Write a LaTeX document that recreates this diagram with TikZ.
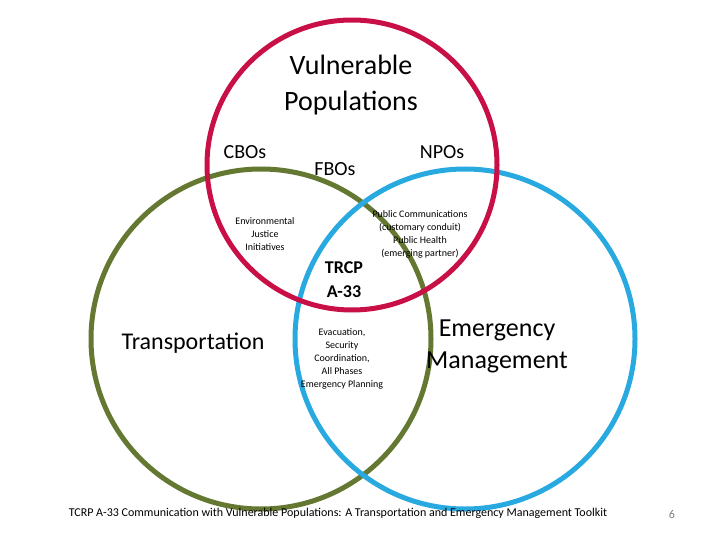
\documentclass[tikz,border=0pt]{standalone}
\usepackage{fontspec}
\setmainfont{Carlito}
\usepackage{tikz}
\usetikzlibrary{positioning}
\definecolor{vred}{RGB}{200,16,70}
\definecolor{vgreen}{RGB}{100,120,50}
\definecolor{vblue}{RGB}{40,170,225}

\begin{document}
\begin{tikzpicture}[x=1pt,y=-1pt,
        ring/.style = {circle, draw, line width=5pt, minimum size=340pt, inner sep=0pt},
        small/.style = {font=\fontsize{10}{13}\selectfont, align=center},
        grouplbl/.style = {font=\fontsize{20}{24}\selectfont, align=center}
    ]
        \useasboundingbox (0,0) rectangle (720,540);
        % Circles
        \node [ring, draw=vgreen] (transport) at (261,339) {};
        \node [ring, draw=vblue] (emergency) at (465,339) {};
        \node [ring, draw=vred, minimum size=290pt] (vulnerable) at (352,165) {};

        % Labels
        \node [font=\fontsize{28}{36}\selectfont, align=center] (vp) at (351,85) {Vulnerable\\Populations};
        \node [grouplbl] (cbos) at (245,152) {CBOs};
        \node [grouplbl] (fbos) at (335,169) {FBOs};
        \node [grouplbl] (npos) at (442,152) {NPOs};
        \node [small] (eji) at (265,234) {Environmental\\Justice\\Initiatives};
        \node [small] (pubcom) at (420,234) {Public Communications\\(customary conduit)\\Public Health\\(emerging partner)};
        \node [font=\bfseries\fontsize{18}{24}\selectfont, align=center] (trcp) at (344,280) {TRCP\\A-33};
        \node [font=\fontsize{24}{30}\selectfont] (tr) at (193,343) {Transportation};
        \node [small] (evac) at (342,359) {Evacuation,\\Security\\Coordination,\\All Phases\\Emergency Planning};
        \node [font=\fontsize{26}{32}\selectfont, align=center] (em) at (497,346) {Emergency\\Management};
        \node [font=\fontsize{12}{14}\selectfont] (foot) at (338,513) {TCRP A-33 Communication with Vulnerable Populations: A Transportation and Emergency Management Toolkit};
        \node [font=\fontsize{12}{14}\selectfont, text=gray] (page) at (672,514) {6};
    \end{tikzpicture}
\end{document}
